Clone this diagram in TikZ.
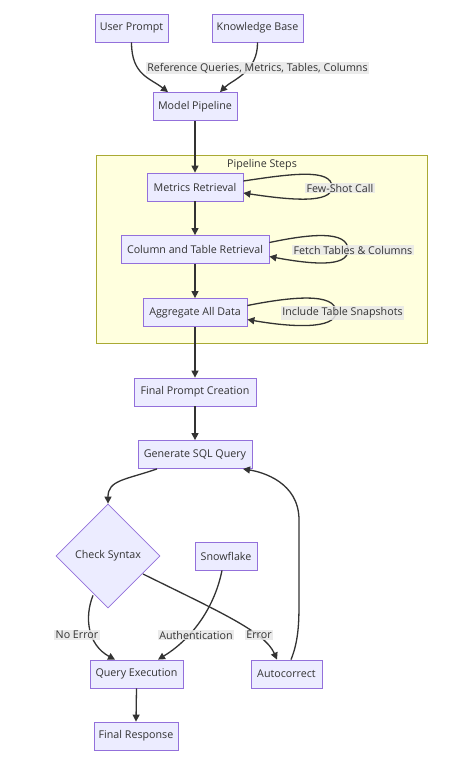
\documentclass[tikz,border=0pt]{standalone}
\usepackage{fontspec}
\setmainfont{Open Sans}
\usetikzlibrary{shapes.geometric,arrows.meta}
\definecolor{nodefill}{HTML}{ECECFF}
\definecolor{nodestroke}{HTML}{9370DB}
\definecolor{clfill}{HTML}{FFFFDE}
\definecolor{clstroke}{HTML}{AAAA33}
\definecolor{edge}{HTML}{333333}
\definecolor{lblbg}{HTML}{E8E8E8}
\tikzset{
  txt/.style={text=edge, font=\fontsize{10.7}{12}\selectfont},
  box/.style={txt, draw=nodestroke, fill=nodefill, line width=0.8pt, inner sep=0pt,
    minimum height=28pt},
  dia/.style={txt, diamond, aspect=1, draw=nodestroke, fill=nodefill, line width=0.8pt,
    inner sep=0pt, minimum width=104pt, minimum height=104pt},
  conn/.style={draw=edge, line width=1.3pt, -{Triangle[length=7pt,width=7pt]}},
  lbl/.style={txt, fill=lblbg, fill opacity=0.85, text opacity=1, inner sep=1.2pt},
}
\begin{document}
\begin{tikzpicture}[x=1pt,y=-1pt]
\useasboundingbox[fill=white] (0,0) rectangle (474,761);
% cluster
\draw[draw=clstroke, fill=clfill, line width=0.8pt] (96,155) rectangle (427,343);
\node[txt] (clt) at (262,165) {Pipeline Steps};
% nodes
\node[box, minimum width=73pt] (up) at (131.5,28) {User Prompt};
\node[box, minimum width=91pt] (kb) at (257.5,28) {Knowledge Base};
\node[box, minimum width=84pt] (mp) at (195,106.5) {Model Pipeline};
\node[box, minimum width=96pt] (mr) at (195,187) {Metrics Retrieval};
\node[box, minimum width=148pt] (ctr) at (195,249.5) {Column and Table Retrieval};
\node[box, minimum width=104pt] (aad) at (195,312.5) {Aggregate All Data};
\node[box, minimum width=122pt] (fpc) at (195,392) {Final Prompt Creation};
\node[box, minimum width=114pt] (gsq) at (195,454.5) {Generate SQL Query};
\node[dia] (cs) at (108,556) {Check Syntax};
\node[box, minimum width=62pt] (sf) at (226,556) {Snowflake};
\node[box, minimum width=93pt] (qe) at (136.5,674) {Query Execution};
\node[box, minimum width=71pt] (ac) at (286.5,674) {Autocorrect};
\node[box, minimum width=84pt] (fr) at (136,736) {Final Response};
% edges
\draw[conn] (up.south) .. controls (131.5,75) and (150,78) .. ([xshift=-27pt]mp.north);
\draw[conn] (kb.south) .. controls (258,72) and (232,80) .. ([xshift=25pt]mp.north);
\node[lbl] (l1) at (257.5,68) {Reference Queries, Metrics, Tables, Columns};
\draw[conn] (mp.south) -- (mr.north);
\draw[conn] (mr.south) -- (ctr.north);
\draw[conn] (ctr.south) -- (aad.north);
\draw[conn] (aad.south) -- (fpc.north);
\draw[conn] (fpc.south) -- (gsq.north);
% self loops
\draw[conn] ([yshift=6pt]mr.east) .. controls (290,174) and (332,168) .. (332,187)
  .. controls (332,204) and (290,200) .. ([yshift=-6pt]mr.east);
\node[lbl] (l2) at (340,188) {Few-Shot Call};
\draw[conn] ([yshift=7pt]ctr.east) .. controls (310,234) and (348,230) .. (348,250)
  .. controls (348,268) and (310,264) .. ([yshift=-7pt]ctr.east);
\node[lbl] (l3) at (353,250) {Fetch Tables \& Columns};
\draw[conn] ([yshift=7pt]aad.east) .. controls (290,297) and (336,292) .. (336,312)
  .. controls (336,330) and (290,327) .. ([yshift=-7pt]aad.east);
\node[lbl] (l4) at (342.5,313) {Include Table Snapshots};
% lower part
\draw[conn] ([xshift=-38pt]gsq.south) .. controls (125,480) and (108,480) .. (cs.north);
\coordinate (acup) at (299,520);
\draw[conn] ([xshift=4.5pt]ac.north) .. controls (299,640) and (299,620) .. (299,600) -- (acup)
  .. controls (299,482) and (262,472) .. ([xshift=48pt]gsq.south);
\draw[conn] ([xshift=-15pt,yshift=13pt]cs.south) .. controls (84,618) and (88,645) .. ([xshift=-21.5pt]qe.north);
\draw[conn] ([xshift=-4pt]sf.south) .. controls (214,610) and (190,640) .. ([xshift=21.5pt]qe.north);
\draw[conn] ([xshift=35pt,yshift=-18pt]cs.center) .. controls (220,612) and (265,632) .. ([xshift=-9.5pt]ac.north);
\node[lbl] (l5) at (77,635) {No Error};
\node[lbl] (l6) at (196,635) {Authentication};
\node[lbl] (l7) at (259,635) {Error};
\draw[conn] (qe.south) -- (fr.north);
\end{tikzpicture}
\end{document}
